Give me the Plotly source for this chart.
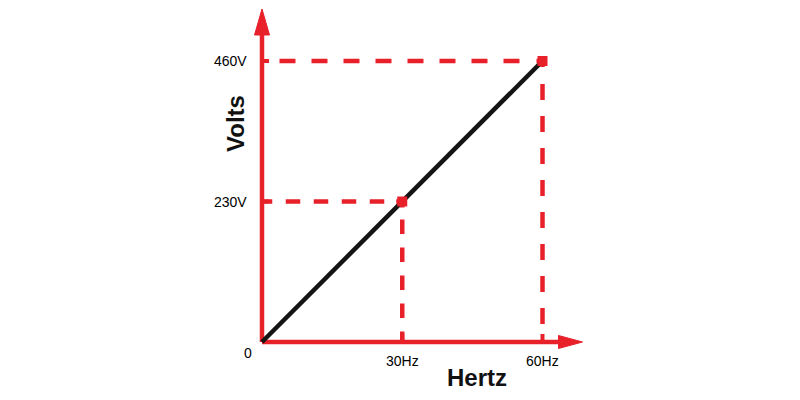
import plotly.graph_objects as go

# ---- data ----
freq_hz = [0, 30, 60]
volts = [0, 230, 460]
x_ticks = [30, 60]
x_tick_labels = ["30Hz", "60Hz"]
y_ticks = [230, 460]
y_tick_labels = ["230V", "460V"]
origin_label = "0"
x_title = "Hertz"
y_title = "Volts"

# ---- style ----
RED = "#e8202a"
BLACK = "#141414"
FONT = "Liberation Sans"
W, H = 800, 400
OX, OY = 262, 342                  # origin in pixels
PPH = (542.5 - OX) / 60            # px per Hz
PPV = (OY - 61) / 460              # px per volt

def hz(px):
    return px / PPH

def vv(px):
    return px / PPV

x_range = [-hz(OX), hz(W - OX)]
y_range = [-vv(H - OY), vv(OY)]

x_axis_end = max(freq_hz) + hz(16)     # arrow base
x_arrow_len = hz(24)
x_arrow_half = vv(6.5)
y_axis_end = max(volts) + vv(26)
y_arrow_len = vv(26)
y_arrow_half = hz(7.5)

fig = go.Figure()

# axis lines
fig.add_trace(go.Scatter(x=[0, x_axis_end], y=[0, 0], mode="lines",
                         line=dict(color=RED, width=4.5)))
fig.add_trace(go.Scatter(x=[0, 0], y=[0, y_axis_end], mode="lines",
                         line=dict(color=RED, width=4.5)))

# main V/Hz line
fig.add_trace(go.Scatter(x=freq_hz, y=volts, mode="lines",
                         line=dict(color=BLACK, width=4.5)))

def dash_pattern(first, gap0, dash, gap, n):
    return ",".join([f"{first}px", f"{gap0}px"] + [f"{dash}px,{gap}px"] * n)

# dashed guide lines (from corner toward axes)
for f, v in zip(x_ticks, y_ticks):
    long = f == max(x_ticks)
    d = 16 if long else 14.5
    g = 16 if long else 13.5
    pat = dash_pattern(6, 17 if long else 12, d, g, 14)
    fig.add_trace(go.Scatter(x=[f, 0], y=[v, v], mode="lines",
                             line=dict(color=RED, width=4.5, dash=pat)))
    fig.add_trace(go.Scatter(x=[f, f], y=[v, 0], mode="lines",
                             line=dict(color=RED, width=4.5, dash=pat)))

# corner squares
fig.add_trace(go.Scatter(x=x_ticks, y=y_ticks, mode="markers",
                         marker=dict(symbol="square", size=10, color=RED),
                         cliponaxis=False))

# small ticks on axes
for f in x_ticks:
    fig.add_trace(go.Scatter(x=[f, f], y=[0, vv(8)], mode="lines",
                             line=dict(color=RED, width=4)))
for v in y_ticks:
    fig.add_trace(go.Scatter(x=[0, hz(7)], y=[v, v], mode="lines",
                             line=dict(color=RED, width=4)))

# arrowheads
fig.add_trace(go.Scatter(
    x=[x_axis_end, x_axis_end + x_arrow_len, x_axis_end, x_axis_end],
    y=[x_arrow_half, 0, -x_arrow_half, x_arrow_half],
    mode="lines", fill="toself", fillcolor=RED, line=dict(color=RED, width=1)))
fig.add_trace(go.Scatter(
    x=[-y_arrow_half, 0, y_arrow_half, -y_arrow_half],
    y=[y_axis_end, y_axis_end + y_arrow_len, y_axis_end, y_axis_end],
    mode="lines", fill="toself", fillcolor=RED, line=dict(color=RED, width=1)))

annotations = []
for v, t in zip(y_ticks, y_tick_labels):
    annotations.append(dict(x=-hz(13), y=v, text=t, showarrow=False,
                            xanchor="right", yanchor="middle",
                            font=dict(family=FONT, size=14, color="#000")))
for f, t in zip(x_ticks, x_tick_labels):
    annotations.append(dict(x=f, y=-vv(19), text=t, showarrow=False,
                            xanchor="center", yanchor="middle",
                            font=dict(family=FONT, size=14, color="#000")))
annotations.append(dict(x=-hz(14), y=-vv(11), text=origin_label, showarrow=False,
                        xanchor="center", yanchor="middle",
                        font=dict(family=FONT, size=14, color="#000")))
annotations.append(dict(x=hz(477 - OX), y=-vv(35), text=f"<b>{x_title}</b>",
                        showarrow=False, xanchor="center", yanchor="middle",
                        font=dict(family=FONT, size=24, color="#111")))
annotations.append(dict(x=-hz(OX - 235), y=vv(OY - 124), text=f"<b>{y_title}</b>",
                        showarrow=False, xanchor="center", yanchor="middle",
                        textangle=-90,
                        font=dict(family=FONT, size=24, color="#111")))

fig.update_layout(
    width=W, height=H, autosize=False,
    margin=dict(l=0, r=0, t=0, b=0),
    paper_bgcolor="white", plot_bgcolor="white",
    showlegend=False, hovermode=False,
    xaxis=dict(range=x_range, visible=False, fixedrange=True),
    yaxis=dict(range=y_range, visible=False, fixedrange=True),
    annotations=annotations,
)

fig.write_html("out.html",
               config={"displayModeBar": False, "staticPlot": True},
               post_script="document.body.style.margin='0';document.body.style.overflow='hidden';")
